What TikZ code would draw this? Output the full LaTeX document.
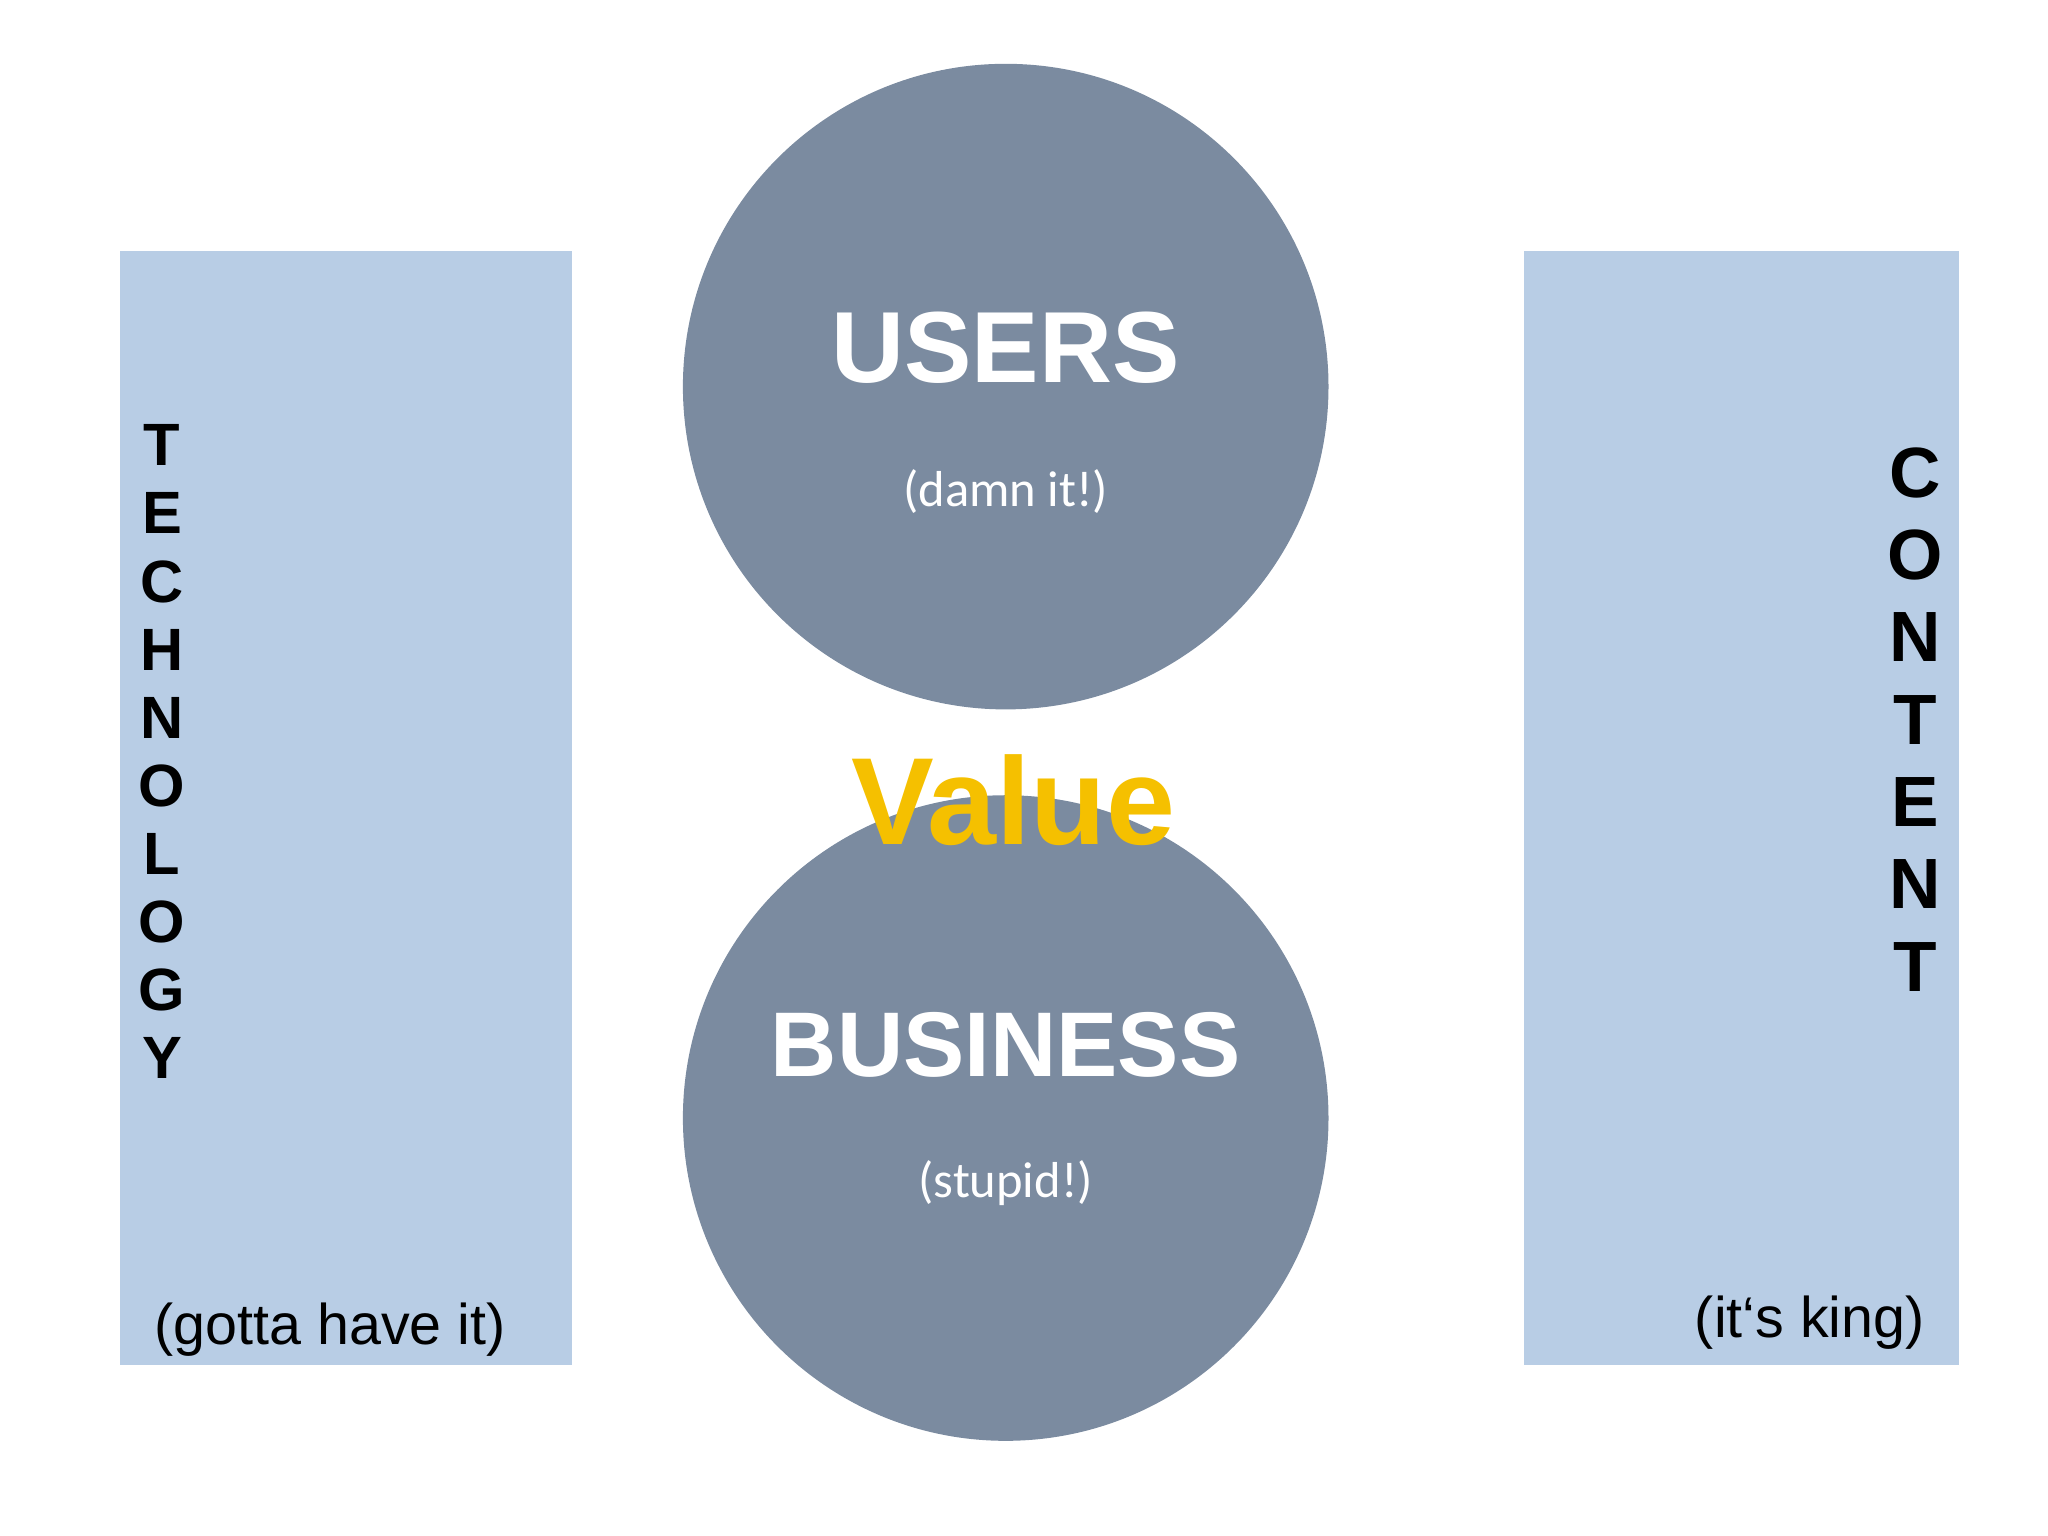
\documentclass[tikz,border=0pt]{standalone}
\usepackage{fontspec}
\setmainfont{Liberation Sans}
\newfontfamily\carl{Carlito}
\definecolor{rectc}{HTML}{B8CDE5}
\definecolor{circc}{HTML}{7B8BA0}
\definecolor{valc}{HTML}{F5C000}
\begin{document}
\begin{tikzpicture}[x=0.01cm,y=-0.01cm,
  bar/.style={fill=rectc,draw=none},
  disc/.style={circle,fill=circc,draw=none,minimum size=4.94cm,inner sep=0pt},
  vert/.style={font=\bfseries\fontsize{#1}{#1}\selectfont,align=center,inner sep=0pt}]
\useasboundingbox (0,0) rectangle (1568,1176);
\fill[bar] (92,192) rectangle (438,1045);
\fill[bar] (1167,192) rectangle (1500,1045);
\node[disc] (users) at (770,296) {};
\node[disc] (business) at (770,856) {};
\node[text=white,font=\bfseries\fontsize{22}{22}\selectfont] (ut) at (770,266) {USERS};
\node[text=white,font=\carl\fontsize{11}{11}\selectfont] (us) at (770,376) {(damn it!)};
\node[text=white,font=\bfseries\fontsize{20}{20}\selectfont] (bt) at (770,800) {BUSINESS};
\node[text=white,font=\carl\fontsize{11}{11}\selectfont] (bs) at (770,906) {(stupid!)};
\node[text=valc,font=\bfseries\fontsize{27}{27}\selectfont] (val) at (776,613) {Value};
\foreach \l [count=\i from 0] in {T,E,C,H,N,O,L,O,G,Y}
  \node[font=\bfseries\fontsize{13}{13}\selectfont] (t\i) at (124,341+52.1*\i) {\l};
\foreach \l [count=\i from 0] in {C,O,N,T,E,N,T}
  \node[font=\bfseries\fontsize{15.5}{15.5}\selectfont] (c\i) at (1466,362+63*\i) {\l};
\node[anchor=west,font=\fontsize{12.5}{12.5}\selectfont] (tg) at (106,1018) {(gotta have it)};
\node[anchor=east,font=\fontsize{12.5}{12.5}\selectfont] (ck) at (1486,1013) {(it‘s king)};
\end{tikzpicture}
\end{document}
